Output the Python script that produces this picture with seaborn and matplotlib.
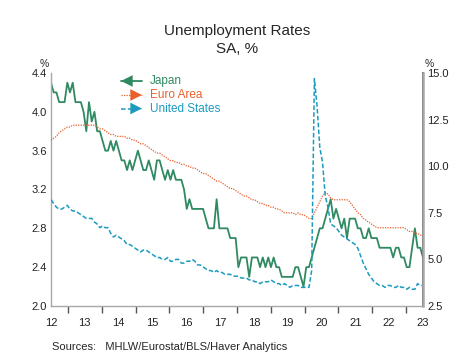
import numpy as np
import pandas as pd
import seaborn as sns
import matplotlib.pyplot as plt
from matplotlib.lines import Line2D

# ==== Monthly unemployment rates (138 months) ====
japan = [
    4.3, 4.2, 4.2, 4.1, 4.1, 4.1, 4.3, 4.2, 4.3, 4.1, 4.1, 4.1,
    4.0, 3.8, 4.1, 3.9, 4.0, 3.8, 3.8, 3.7, 3.6, 3.6, 3.7, 3.6,
    3.7, 3.6, 3.5, 3.5, 3.4, 3.5, 3.4, 3.5, 3.6, 3.5, 3.4, 3.4,
    3.5, 3.4, 3.3, 3.5, 3.5, 3.4, 3.3, 3.4, 3.3, 3.4, 3.3, 3.3,
    3.3, 3.2, 3.0, 3.1, 3.0, 3.0, 3.0, 3.0, 3.0, 2.9, 2.8, 2.8,
    2.8, 3.1, 2.8, 2.8, 2.8, 2.8, 2.7, 2.7, 2.7, 2.4, 2.5, 2.5,
    2.5, 2.3, 2.5, 2.5, 2.5, 2.4, 2.5, 2.4, 2.5, 2.4, 2.5, 2.4,
    2.4, 2.3, 2.3, 2.3, 2.3, 2.3, 2.4, 2.4, 2.3, 2.2, 2.4, 2.4,
    2.5, 2.6, 2.7, 2.8, 2.8, 2.9, 3.0, 3.1, 2.9, 3.0, 2.9, 2.8,
    2.9, 2.7, 2.9, 2.9, 2.9, 2.8, 2.8, 2.7, 2.7, 2.8, 2.7, 2.7,
    2.7, 2.6, 2.6, 2.6, 2.6, 2.6, 2.5, 2.6, 2.6, 2.5, 2.5, 2.4,
    2.4, 2.6, 2.8, 2.6, 2.6, 2.5,
]
euro_area = [
    11.4, 11.5, 11.6, 11.8, 11.9, 12.0, 12.1, 12.1, 12.2, 12.2, 12.2, 12.2,
    12.2, 12.2, 12.2, 12.2, 12.2, 12.1, 12.0, 12.0, 11.9, 11.8, 11.7, 11.7,
    11.6, 11.6, 11.6, 11.6, 11.5, 11.5, 11.4, 11.4, 11.3, 11.2, 11.2, 11.1,
    11.0, 10.9, 10.8, 10.7, 10.7, 10.6, 10.5, 10.4, 10.3, 10.3, 10.2, 10.2,
    10.1, 10.1, 10.0, 10.0, 9.9, 9.9, 9.8, 9.7, 9.6, 9.6, 9.5, 9.4,
    9.3, 9.2, 9.2, 9.1, 9.0, 8.9, 8.8, 8.8, 8.7, 8.6, 8.5, 8.4,
    8.4, 8.3, 8.2, 8.2, 8.1, 8.0, 8.0, 7.9, 7.9, 7.8, 7.8, 7.7,
    7.7, 7.6, 7.5, 7.5, 7.5, 7.5, 7.4, 7.5, 7.4, 7.4, 7.3, 7.2,
    7.2, 7.5, 7.8, 8.1, 8.4, 8.6, 8.5, 8.3, 8.2, 8.2, 8.2, 8.2,
    8.2, 8.2, 8.1, 7.9, 7.7, 7.5, 7.4, 7.2, 7.1, 7.0, 6.9, 6.8,
    6.7, 6.7, 6.7, 6.7, 6.7, 6.7, 6.7, 6.7, 6.7, 6.7, 6.7, 6.6,
    6.5, 6.5, 6.4, 6.4, 6.3, 6.3,
]
united_states = [
    8.2, 8.0, 7.8, 7.7, 7.7, 7.8, 7.9, 7.7, 7.6, 7.6, 7.5, 7.4,
    7.3, 7.2, 7.2, 7.2, 7.0, 6.9, 6.7, 6.8, 6.7, 6.7, 6.4, 6.2,
    6.3, 6.2, 6.1, 6.0, 5.8, 5.8, 5.7, 5.6, 5.5, 5.4, 5.5, 5.5,
    5.4, 5.3, 5.2, 5.1, 5.1, 5.0, 5.0, 5.1, 4.9, 4.9, 5.0, 5.0,
    4.8, 4.8, 4.9, 4.9, 5.0, 4.9, 4.7, 4.7, 4.6, 4.5, 4.4, 4.4,
    4.3, 4.4, 4.3, 4.3, 4.2, 4.2, 4.2, 4.1, 4.1, 4.1, 4.0, 4.0,
    4.0, 3.9, 3.9, 3.8, 3.8, 3.7, 3.8, 3.8, 3.8, 3.9, 3.8, 3.7,
    3.7, 3.6, 3.7, 3.6, 3.5, 3.6, 3.6, 3.6, 3.5, 3.5, 3.5, 3.5,
    4.4, 14.7, 13.2, 11.0, 10.2, 8.4, 7.8, 6.9, 6.8, 6.7, 6.5, 6.3,
    6.2, 6.1, 6.0, 5.9, 5.8, 5.6, 5.2, 4.8, 4.5, 4.2, 4.0, 3.8,
    3.7, 3.6, 3.6, 3.5, 3.6, 3.6, 3.5, 3.5, 3.6, 3.5, 3.5, 3.4,
    3.5, 3.4, 3.4, 3.7, 3.6, 3.6,
]
year_labels = ["12", "13", "14", "15", "16", "17", "18", "19", "20", "21", "22", "23"]
left_ticks = [2.0, 2.4, 2.8, 3.2, 3.6, 4.0, 4.4]
right_ticks = [2.5, 5.0, 7.5, 10.0, 12.5, 15.0]

JP_COLOR = "#2f8a62"
EA_COLOR = "#e8602c"
US_COLOR = "#1c9bbf"
AXIS_GRAY = "#a8a8a8"

df = pd.DataFrame({
    "month": np.arange(len(japan)),
    "Japan": japan,
    "Euro Area": euro_area,
    "United States": united_states,
})

sns.set_theme(style="white")
plt.rcParams["font.family"] = ["Liberation Sans", "DejaVu Sans"]

fig = plt.figure(figsize=(4.74, 3.55), dpi=100)
ax = fig.add_axes([51 / 474, 1 - 306 / 355, 372 / 474, 233 / 355])
ax2 = ax.twinx()

sns.lineplot(data=df, x="month", y="Japan", ax=ax, color=JP_COLOR, linewidth=1.3)
sns.lineplot(data=df, x="month", y="Euro Area", ax=ax2, color=EA_COLOR,
             linewidth=0.9, linestyle=(0, (1, 1)))
sns.lineplot(data=df, x="month", y="United States", ax=ax2, color=US_COLOR,
             linewidth=1.1, linestyle=(0, (3, 1.5)))

# === Axes ===
last = len(japan) - 1
ax.set_xlim(0, last)
ax.set_ylim(2.0, 4.4)
ax2.set_ylim(2.5, 15.0)

pos = np.linspace(0, last, len(year_labels))
ax.set_xticks(pos)
ax.set_xticklabels(year_labels)
ax.set_xticks((pos[:-1] + pos[1:]) / 2, minor=True)
ax.tick_params(axis="x", which="major", length=0, pad=9, labelsize=8, colors="#222222")
ax.tick_params(axis="x", which="minor", length=5, width=1, direction="out",
               color="#555555", bottom=True)

ax.set_yticks(left_ticks)
ax.set_yticklabels([f"{v:.1f}" for v in left_ticks])
ax2.set_yticks(right_ticks)
ax2.set_yticklabels([f"{v:.1f}" for v in right_ticks])
ax.tick_params(axis="y", length=0, pad=3, labelsize=8, colors="#222222")
ax2.tick_params(axis="y", length=0, pad=3, labelsize=8, colors="#222222")

for a in (ax, ax2):
    a.set_xlabel("")
    a.set_ylabel("")
    a.spines["top"].set_visible(False)
    a.grid(False)
for name in ("left", "bottom"):
    ax.spines[name].set_color(AXIS_GRAY)
    ax.spines[name].set_linewidth(1.0)
ax2.spines["left"].set_visible(False)
ax2.spines["bottom"].set_visible(False)
ax2.spines["right"].set_color(AXIS_GRAY)
ax2.spines["right"].set_linewidth(1.8)

# === Titles and labels ===
fig.text(0.5, 1 - 31 / 355, "Unemployment Rates", ha="center", va="center", fontsize=11)
fig.text(0.5, 1 - 49 / 355, "SA, %", ha="center", va="center", fontsize=11)
fig.text(44 / 474, 1 - 64 / 355, "%", ha="center", va="center", fontsize=7.5)
fig.text(429 / 474, 1 - 64 / 355, "%", ha="center", va="center", fontsize=7.5)
fig.text(52 / 474, 1 - 347 / 355, "Sources:   MHLW/Eurostat/BLS/Haver Analytics",
         ha="left", va="center", fontsize=8)

# === Legend (drawn by hand: arrow heads on the line ends) ===
legend_rows = [
    ("Japan", JP_COLOR, "-", 1.3, "left", 81),
    ("Euro Area", EA_COLOR, (0, (1, 1)), 0.9, "right", 95),
    ("United States", US_COLOR, (0, (3, 1.5)), 1.1, "right", 108.5),
]
x0, x1 = 121 / 474, 142 / 474
for label, color, ls, lw, side, ypx in legend_rows:
    y = 1 - ypx / 355
    fig.add_artist(Line2D([x0, x1], [y, y], transform=fig.transFigure,
                          color=color, linestyle=ls, linewidth=lw))
    tip = x0 if side == "left" else x1
    back = tip + 0.016 if side == "left" else tip - 0.016
    ax.annotate("", xy=(tip, y), xytext=(back, y), xycoords="figure fraction",
                arrowprops=dict(arrowstyle="-|>,head_length=0.7,head_width=0.35",
                                color=color, lw=0, mutation_scale=12,
                                shrinkA=0, shrinkB=0))
    fig.text(150 / 474, y, label, ha="left", va="center", fontsize=8.5, color=color)

plt.savefig("out.png", dpi=100)
plt.close()
